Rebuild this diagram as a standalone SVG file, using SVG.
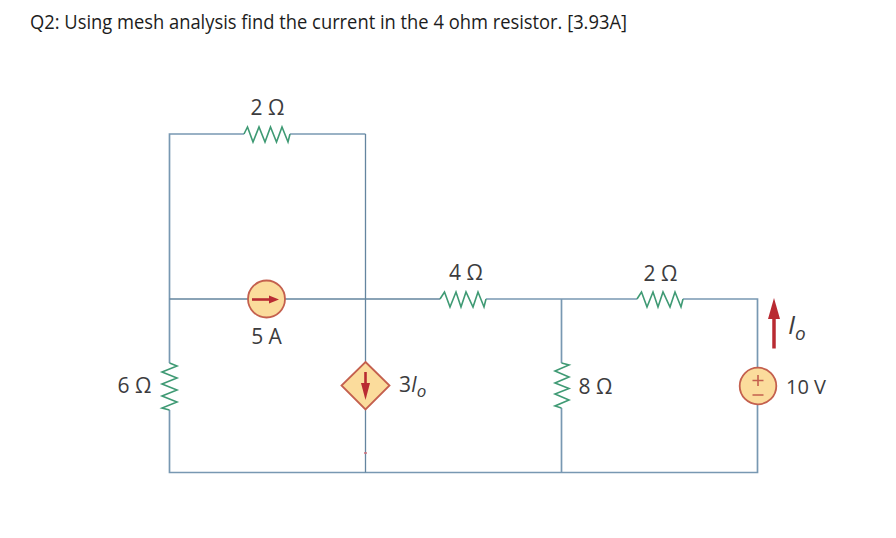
<svg xmlns="http://www.w3.org/2000/svg" width="896" height="538" viewBox="0 0 896 538">
<style>
.wire{fill:none;stroke:#7898b2;stroke-width:1.7}
.thin{fill:none;stroke:#64859f;stroke-width:1.3}
.res{fill:none;stroke:#3f9a74;stroke-width:1.6;stroke-linejoin:miter}
.src{fill:#fbdc9c;stroke:#c4604e;stroke-width:1.8}
.red{fill:#b92b32;stroke:none}
.redl{fill:none;stroke:#b92b32;stroke-width:2.6}
.lbl{font-family:"Open Sans","Liberation Sans",sans-serif;font-size:21px;fill:#3c3c3e}
.it{font-style:italic}
.title{font-family:"Open Sans","Noto Sans",sans-serif;font-size:19.500px;fill:#1c1c1c}
</style>
<rect width="896" height="538" fill="#ffffff"/>
<text id="title" class="title" x="30" y="29" textLength="597" lengthAdjust="spacingAndGlyphs">Q2: Using mesh analysis find the current in the 4 ohm resistor. [3.93A]</text>
<g id="connectors">
<path class="wire" d="M244 134H169.500V363M169.500 410V472.500H757.500V404"/>
<path class="wire" d="M290 134H365.500"/>
<path class="thin" d="M365.500 134V362M365.500 410V472.500"/>
<path class="thin" d="M169.500 299H248M285 299H440"/>
<path class="wire" d="M486 299H637M683 299H757.500V368"/>
<path class="wire" d="M561.500 299V363M561.500 408V472.500"/>
<path d="M364 453h3" stroke="#d0707a" stroke-width="1.500" fill="none"/>
</g>
<g id="r-top">
<path class="res" d="M244 134L247.500 127L253 142L259 127L265 142L270.500 127L276.500 142L282 127L288 142L290 134"/>
<text class="lbl" x="267.500" y="115" text-anchor="middle">2 Ω</text>
</g>
<g id="r-6">
<path class="res" d="M169.500 363L177 366L162 372L177 378L162 384L177 390L162 396L177 402L162 408L169.500 410"/>
<text class="lbl" x="134.500" y="393" text-anchor="middle">6 Ω</text>
</g>
<g id="r-4">
<path class="res" d="M440 299L444.500 292L450 307L456 292L461 307L466 292L473 307L478 292L484 307L486 299"/>
<text class="lbl" x="466" y="280" text-anchor="middle">4 Ω</text>
</g>
<g id="r-8">
<path class="res" d="M561.500 363L569 365L555 371L569 377L555 383L569 388.500L555 394L569 400L555 406L561.500 408"/>
<text class="lbl" x="595.500" y="394" text-anchor="middle">8 Ω</text>
</g>
<g id="r-right">
<path class="res" d="M637 299L641.500 292L647 307L653 292L658 307L663 292L670 307L675 292L681 307L683 299"/>
<text class="lbl" x="660.500" y="281" text-anchor="middle">2 Ω</text>
</g>
<g id="src-5a">
<circle class="src" cx="266.500" cy="299" r="18.500"/>
<path class="redl" d="M252 299.500H271"/>
<path class="red" d="M279 299.500L269 295.500V303.500Z"/>
<text class="lbl" x="266.500" y="344" text-anchor="middle">5 A</text>
</g>
<g id="src-dep">
<path class="src" d="M365.500 362L389.500 385.500L365.500 409.500L341.500 385.500Z"/>
<path class="redl" d="M365.500 372V388"/>
<path class="red" d="M365.500 400L361 383H370Z"/>
<text class="lbl" x="399" y="392">3<tspan class="it">I</tspan><tspan class="it" font-size="17" dy="5">o</tspan></text>
</g>
<g id="src-10v">
<circle class="src" cx="758" cy="386" r="18.300"/>
<path d="M758 375V386M752.500 380.500H763.500M752.500 395H763.500" fill="none" stroke="#c4604e" stroke-width="1.600"/>
<text class="lbl" x="786" y="394" font-size="20" style="font-size:20px">10 V</text>
</g>
<g id="arrow-io">
<path class="redl" d="M774 317V348.500" style="stroke-width:3.500"/>
<path class="red" d="M774 298L768 319H780Z"/>
<text class="lbl" x="788" y="334" style="font-size:26px"><tspan class="it">I</tspan><tspan class="it" font-size="19" dy="6" style="font-size:19px">o</tspan></text>
</g>
</svg>
